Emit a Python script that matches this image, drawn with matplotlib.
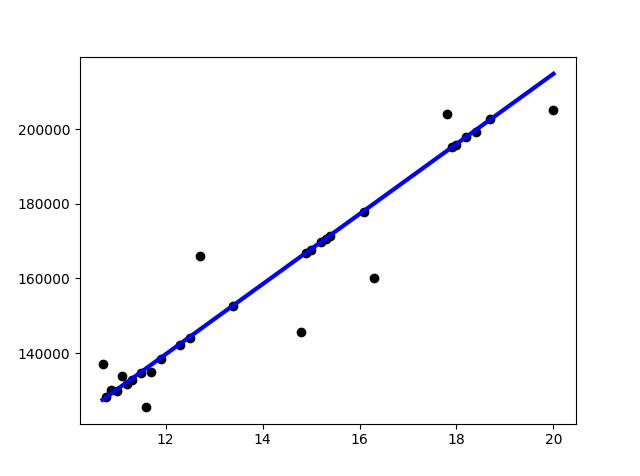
import matplotlib
matplotlib.use('Agg')
import matplotlib.pyplot as plt

x_vals = [10.7, 10.77, 10.88, 11.0, 11.1, 11.2, 11.3, 11.5, 11.7, 11.6,
          11.9, 12.3, 12.5, 12.7, 13.4, 14.8, 14.9, 15.0, 15.2, 15.3,
          15.4, 16.1, 16.3, 17.8, 17.9, 18.0, 18.2, 18.4, 18.7, 20.0]
y_vals = [137000, 128400, 130100, 129900, 133800, 131700, 132900, 134800, 135000, 125600,
          138500, 142200, 144000, 165900, 152600, 145800, 166800, 167600, 169800, 170700,
          171400, 177900, 160000, 203900, 195100, 195700, 198000, 199100, 202600, 205000]

# fitted line
line_x = [10.7, 20.0]
line_y = [127500, 214800]

fig = plt.figure(figsize=(6.4, 4.76), dpi=100)
plt.scatter(x_vals, y_vals, color='black')
plt.plot(line_x, line_y, color='blue', linewidth=3)
plt.savefig('out.png')
